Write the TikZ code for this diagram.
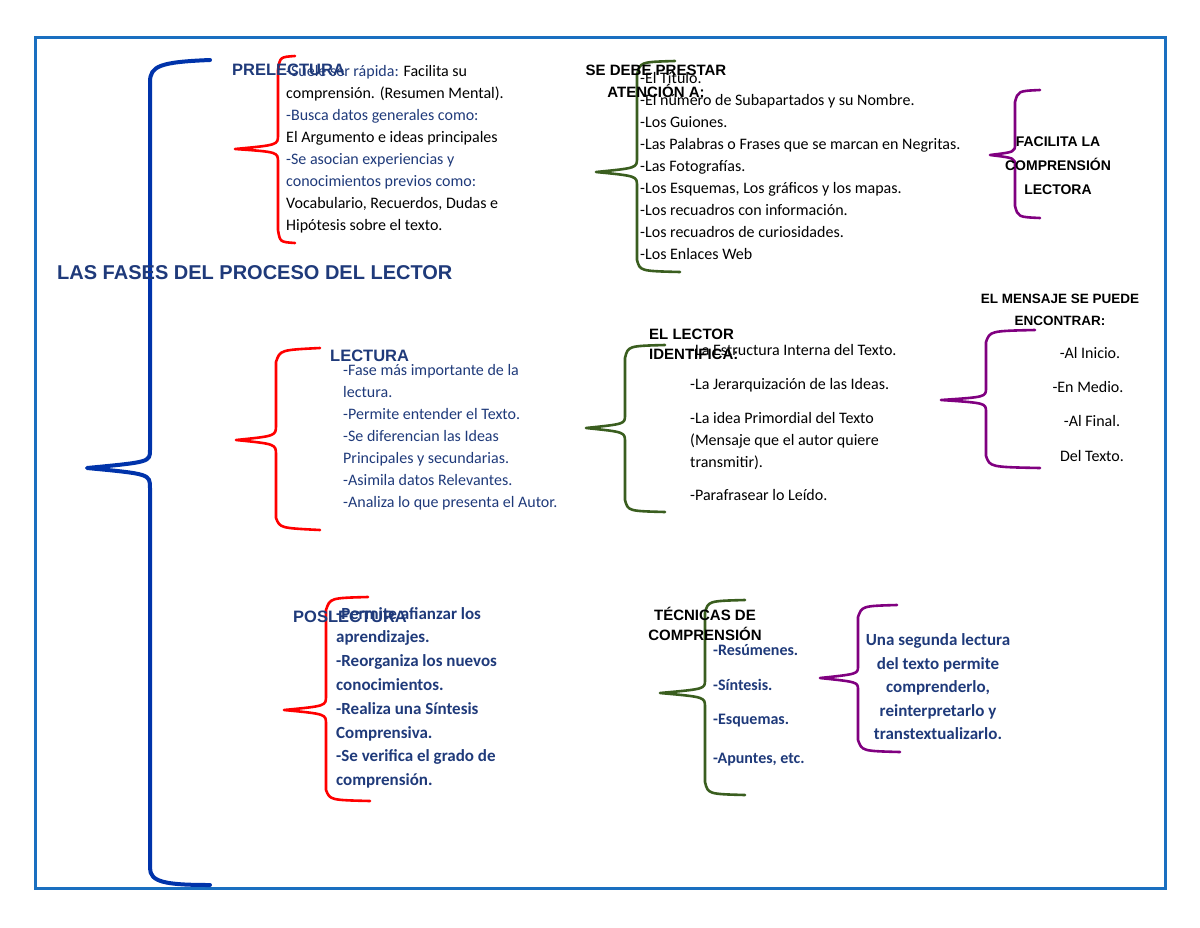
\documentclass[tikz,border=0pt]{standalone}
\usepackage{fontspec}
\setmainfont{Carlito}
\newfontfamily\hd{Liberation Sans}
\definecolor{navy}{HTML}{1F3A7A}
\definecolor{bblue}{HTML}{0033AA}
\definecolor{frame}{HTML}{1A6FC0}
\definecolor{gr}{HTML}{3A5E1F}
\definecolor{pu}{HTML}{800080}
\definecolor{rd}{HTML}{FF0000}
\begin{document}
\begin{tikzpicture}[x=1pt,y=-1pt,
  body/.style={anchor=north west,inner sep=0pt,align=left,font=\fontsize{16}{22}\selectfont},
  head/.style={inner sep=0pt,font=\hd\bfseries\fontsize{16.5}{21}\selectfont,text=navy},
  headk/.style={inner sep=0pt,align=center,font=\hd\bfseries\fontsize{15}{22}\selectfont},
  brc/.style={line width=2.6pt,line cap=round,line join=round}]
\useasboundingbox (0,0) rectangle (1200,927);
\draw[frame,line width=3pt] (35,37) rectangle (1165,888);
% braces
\draw[brc,bblue,line width=4pt] (210,60) .. controls (160,62) and (150,66) .. (150,82) -- (150,450) .. controls (150,462) .. (87,468) .. controls (150,474) .. (150,488) -- (150,868) .. controls (150,882) and (165,885) .. (210,885);
\draw[brc,rd] (295,56) .. controls (280,57) .. (278,70) -- (278,135) .. controls (278,145) .. (235,149) .. controls (278,152) .. (278,162) -- (278,230) .. controls (280,242) .. (295,243);
\draw[brc,rd] (320,348) .. controls (280,350) .. (276,362) -- (276,425) .. controls (276,436) .. (236,440) .. controls (276,444) .. (276,455) -- (276,518) .. controls (280,528) .. (320,530);
\draw[brc,rd] (368,597) .. controls (330,598) .. (326,610) -- (326,696) .. controls (326,706) .. (284,710) .. controls (326,714) .. (326,724) -- (326,790) .. controls (330,800) .. (370,801);
\draw[brc,gr] (675,61) .. controls (640,62) .. (637,75) -- (637,158) .. controls (637,168) .. (596,172) .. controls (637,176) .. (637,186) -- (637,260) .. controls (640,271) .. (680,272);
\draw[brc,gr] (665,345) .. controls (628,346) .. (625,358) -- (625,415) .. controls (625,424) .. (586,428) .. controls (625,432) .. (625,442) -- (625,500) .. controls (628,511) .. (665,512);
\draw[brc,gr] (745,600) .. controls (708,601) .. (705,613) -- (705,680) .. controls (705,689) .. (660,693) .. controls (705,697) .. (705,707) -- (705,782) .. controls (708,794) .. (745,795);
\draw[brc,pu] (1040,90) .. controls (1018,91) .. (1015,102) -- (1015,144) .. controls (1015,152) .. (990,155) .. controls (1015,158) .. (1015,166) -- (1015,206) .. controls (1018,217) .. (1040,218);
\draw[brc,pu] (1035,330) .. controls (990,331) .. (986,342) -- (986,388) .. controls (986,397) .. (941,400) .. controls (986,403) .. (986,412) -- (986,456) .. controls (990,467) .. (1040,468);
\draw[brc,pu] (897,605) .. controls (862,606) .. (858,617) -- (858,666) .. controls (858,674) .. (820,678) .. controls (858,682) .. (858,690) -- (858,740) .. controls (862,751) .. (900,752);
% titles
\node[head,anchor=west,font=\hd\bfseries\fontsize{20}{21}\selectfont] (title) at (57,273) {LAS FASES DEL PROCESO DEL LECTOR};
\node[head,anchor=west] (pre) at (232,70) {PRELECTURA};
\node[head,anchor=west] (lec) at (330,356) {LECTURA};
\node[head,anchor=west] (pos) at (293,617) {POSLECTURA};
% prelectura text
\node[body] (pret) at (286,65) {\textcolor{navy}{-Suele ser rápida:} Facilita su\\
comprensión. (Resumen Mental).\\
\textcolor{navy}{-Busca datos generales como:}\\
El Argumento e ideas principales\\
\textcolor{navy}{-Se asocian experiencias y}\\
\textcolor{navy}{conocimientos previos como:}\\
Vocabulario, Recuerdos, Dudas e\\
Hipótesis sobre el texto.};
\node[body,text=navy] (lect) at (343,364) {-Fase más importante de la\\
lectura.\\
-Permite entender el Texto.\\
-Se diferencian las Ideas\\
Principales y secundarias.\\
-Asimila datos Relevantes.\\
-Analiza lo que presenta el Autor.};
\node[body,text=navy,font=\bfseries\fontsize{17}{23.8}\selectfont] (post) at (336,607) {-Permite afianzar los\\
aprendizajes.\\
-Reorganiza los nuevos\\
conocimientos.\\
-Realiza una Síntesis\\
Comprensiva.\\
-Se verifica el grado de\\
comprensión.};
% se debe prestar
\node[body] (attt) at (640,72) {-El Título.\\
-El número de Subapartados y su Nombre.\\
-Los Guiones.\\
-Las Palabras o Frases que se marcan en Negritas.\\
-Las Fotografías.\\
-Los Esquemas, Los gráficos y los mapas.\\
-Los recuadros con información.\\
-Los recuadros de curiosidades.\\
-Los Enlaces Web};
\node[headk] (att) at (656,81) {SE DEBE PRESTAR\\ATENCIÓN A:};
\node[headk,font=\hd\bfseries\fontsize{14}{24}\selectfont] (fac) at (1058,166) {FACILITA LA\\COMPRENSIÓN\\LECTORA};
% lector identifica
\node[body] (id1) at (690,344) {-La Estructura Interna del Texto.};
\node[headk,anchor=north west,align=left,font=\hd\bfseries\fontsize{15}{20}\selectfont] (idh) at (649,329) {EL LECTOR\\IDENTIFICA:};
\node[body] (id2) at (690,378) {-La Jerarquización de las Ideas.};
\node[body] (id3) at (690,412) {-La idea Primordial del Texto\\(Mensaje que el autor quiere\\transmitir).};
\node[body] (id4) at (690,489) {-Parafrasear lo Leído.};
% mensaje
\node[headk,font=\hd\bfseries\fontsize{13.5}{22}\selectfont] (msg) at (1060,310) {EL MENSAJE SE PUEDE\\ENCONTRAR:};
\node[inner sep=0pt,font=\fontsize{16}{18}\selectfont] (m1) at (1090,353) {-Al Inicio.};
\node[inner sep=0pt,font=\fontsize{16}{18}\selectfont] (m2) at (1088,387) {-En Medio.};
\node[inner sep=0pt,font=\fontsize{16}{18}\selectfont] (m3) at (1092,421) {-Al Final.};
\node[inner sep=0pt,font=\fontsize{16}{18}\selectfont] (m4) at (1092,456) {Del Texto.};
% tecnicas
\node[headk,font=\hd\bfseries\fontsize{15}{20}\selectfont] (tec) at (705,624) {TÉCNICAS DE\\COMPRENSIÓN};
\node[body,text=navy,font=\bfseries\fontsize{16}{18}\selectfont] (t1) at (713,644) {-Resúmenes.};
\node[body,text=navy,font=\bfseries\fontsize{16}{18}\selectfont] (t2) at (713,679) {-Síntesis.};
\node[body,text=navy,font=\bfseries\fontsize{16}{18}\selectfont] (t3) at (713,714) {-Esquemas.};
\node[body,text=navy,font=\bfseries\fontsize{16}{18}\selectfont] (t4) at (713,753) {-Apuntes, etc.};
\node[body,anchor=center,align=center,text=navy,font=\bfseries\fontsize{17}{23.5}\selectfont] (una) at (938,687) {Una segunda lectura\\del texto permite\\comprenderlo,\\reinterpretarlo y\\transtextualizarlo.};
\end{tikzpicture}
\end{document}
